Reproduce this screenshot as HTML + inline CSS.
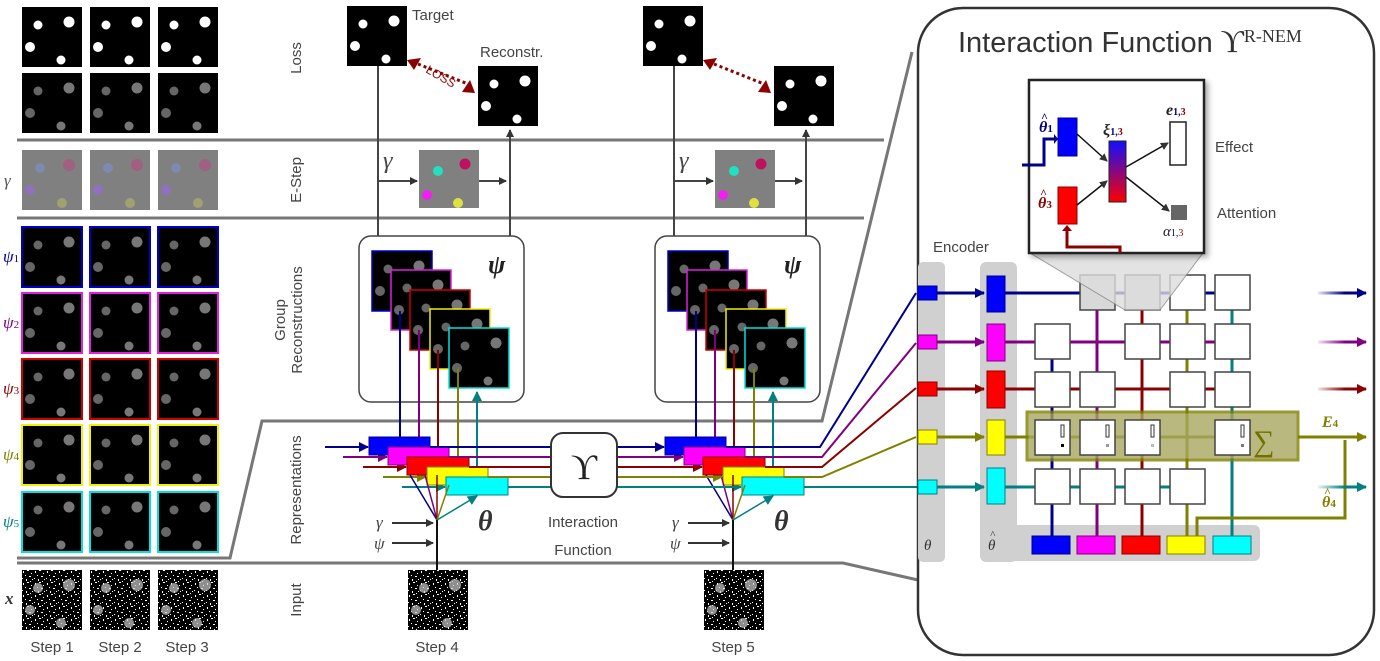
<!DOCTYPE html>
<html><head><meta charset="utf-8"><style>
html,body{margin:0;padding:0;background:#fff;}
svg{display:block;font-family:"Liberation Sans",sans-serif;}
.lab{font-family:"Liberation Sans",sans-serif;fill:#444;font-size:15px;}
.mth{font-family:"Liberation Serif",serif;font-style:italic;}
</style></head><body>
<svg width="1380" height="661" viewBox="0 0 1380 661" xmlns="http://www.w3.org/2000/svg">
<defs>
<symbol id="bw" viewBox="0 0 60 60"><rect width="60" height="60" fill="#000"/><circle cx="16" cy="18" r="4.5" fill="#fff"/><circle cx="47" cy="15" r="5.5" fill="#fff"/><circle cx="8" cy="40" r="5" fill="#fff"/><circle cx="39" cy="53" r="4.5" fill="#fff"/></symbol>
<symbol id="bg" viewBox="0 0 60 60"><rect width="60" height="60" fill="#000"/><circle cx="16" cy="18" r="4.5" fill="#666"/><circle cx="47" cy="15" r="5.5" fill="#777"/><circle cx="8" cy="40" r="5" fill="#666"/><circle cx="39" cy="53" r="4.5" fill="#777"/></symbol>
<symbol id="gm" viewBox="0 0 60 60"><rect width="60" height="60" fill="#808080"/><circle cx="18" cy="18" r="5" fill="#7a8ab0"/><circle cx="47" cy="15" r="6" fill="#a06080"/><circle cx="8" cy="40" r="5" fill="#9070c0"/><circle cx="40" cy="53" r="5" fill="#a0a070"/></symbol>
<pattern id="nz" width="12" height="12" patternUnits="userSpaceOnUse"><rect width="12" height="12" fill="#000"/><rect x="1" y="1" width="1" height="2" fill="#fff"/><rect x="5" y="0" width="2" height="1" fill="#fff"/><rect x="9" y="3" width="1" height="1" fill="#fff"/><rect x="3" y="5" width="1" height="1" fill="#fff"/><rect x="7" y="6" width="2" height="1" fill="#fff"/><rect x="0" y="8" width="1" height="1" fill="#fff"/><rect x="4" y="9" width="1" height="2" fill="#fff"/><rect x="10" y="9" width="1" height="1" fill="#fff"/><rect x="8" y="11" width="1" height="1" fill="#fff"/></pattern>
<symbol id="nx" viewBox="0 0 60 60"><rect width="60" height="60" fill="url(#nz)"/><circle cx="16" cy="18" r="5" fill="#ccc" opacity=".7"/><circle cx="47" cy="15" r="6" fill="#ccc" opacity=".7"/><circle cx="8" cy="40" r="5" fill="#ccc" opacity=".7"/><circle cx="39" cy="53" r="5" fill="#ccc" opacity=".7"/></symbol>
<marker id="ak" markerWidth="8" markerHeight="8" refX="7" refY="4" orient="auto" markerUnits="userSpaceOnUse"><path d="M0,0L8,4L0,8z" fill="#333"/></marker>
<marker id="anv" markerWidth="10" markerHeight="10" refX="9" refY="5" orient="auto" markerUnits="userSpaceOnUse"><path d="M0,0L10,5L0,10z" fill="#00008b"/></marker>
<marker id="apu" markerWidth="10" markerHeight="10" refX="9" refY="5" orient="auto" markerUnits="userSpaceOnUse"><path d="M0,0L10,5L0,10z" fill="#800080"/></marker>
<marker id="ard" markerWidth="10" markerHeight="10" refX="9" refY="5" orient="auto" markerUnits="userSpaceOnUse"><path d="M0,0L10,5L0,10z" fill="#8b0000"/></marker>
<marker id="aol" markerWidth="10" markerHeight="10" refX="9" refY="5" orient="auto" markerUnits="userSpaceOnUse"><path d="M0,0L10,5L0,10z" fill="#808000"/></marker>
<marker id="atl" markerWidth="10" markerHeight="10" refX="9" refY="5" orient="auto" markerUnits="userSpaceOnUse"><path d="M0,0L10,5L0,10z" fill="#008080"/></marker>
<linearGradient id="xi" x1="0" y1="0" x2="0" y2="1"><stop offset="0" stop-color="#1010ff"/><stop offset="1" stop-color="#ff0000"/></linearGradient>
<linearGradient id="fade" x1="0" y1="0" x2="1" y2="0"><stop offset="0" stop-color="#fff" stop-opacity="1"/><stop offset="1" stop-color="#fff" stop-opacity="0"/></linearGradient>
<filter id="sh" x="-10%" y="-10%" width="130%" height="130%"><feDropShadow dx="3" dy="3" stdDeviation="3" flood-opacity=".35"/></filter>
</defs>

<g stroke="#777" stroke-width="3" fill="none">
<line x1="17" y1="140" x2="884" y2="140"/>
<line x1="17" y1="218" x2="864" y2="218"/>
<polyline points="17,558 230,558 262,421 822,421 912,52"/>
<polyline points="17,563 843,563 918,580"/>
</g>

<g>
<use href="#bw" x="22" y="7" width="60" height="60"/><use href="#bw" x="90" y="7" width="60" height="60"/><use href="#bw" x="158" y="7" width="60" height="60"/>
<use href="#bg" x="22" y="73" width="60" height="60"/><use href="#bg" x="90" y="73" width="60" height="60"/><use href="#bg" x="158" y="73" width="60" height="60"/>
<use href="#gm" x="22" y="150" width="60" height="60"/><use href="#gm" x="90" y="150" width="60" height="60"/><use href="#gm" x="158" y="150" width="60" height="60"/>
<use href="#bg" x="22" y="227" width="60" height="60"/><use href="#bg" x="90" y="227" width="60" height="60"/><use href="#bg" x="158" y="227" width="60" height="60"/>
<use href="#bg" x="22" y="293" width="60" height="60"/><use href="#bg" x="90" y="293" width="60" height="60"/><use href="#bg" x="158" y="293" width="60" height="60"/>
<use href="#bg" x="22" y="359" width="60" height="60"/><use href="#bg" x="90" y="359" width="60" height="60"/><use href="#bg" x="158" y="359" width="60" height="60"/>
<use href="#bg" x="22" y="425" width="60" height="60"/><use href="#bg" x="90" y="425" width="60" height="60"/><use href="#bg" x="158" y="425" width="60" height="60"/>
<use href="#bg" x="22" y="492" width="60" height="60"/><use href="#bg" x="90" y="492" width="60" height="60"/><use href="#bg" x="158" y="492" width="60" height="60"/>
<use href="#nx" x="22" y="570" width="60" height="60"/><use href="#nx" x="90" y="570" width="60" height="60"/><use href="#nx" x="158" y="570" width="60" height="60"/>
</g>
<g fill="none" stroke-width="2">
<g stroke="#0000cc"><rect x="22" y="227" width="60" height="60"/><rect x="90" y="227" width="60" height="60"/><rect x="158" y="227" width="60" height="60"/></g>
<g stroke="#e020e0"><rect x="22" y="293" width="60" height="60"/><rect x="90" y="293" width="60" height="60"/><rect x="158" y="293" width="60" height="60"/></g>
<g stroke="#d00000"><rect x="22" y="359" width="60" height="60"/><rect x="90" y="359" width="60" height="60"/><rect x="158" y="359" width="60" height="60"/></g>
<g stroke="#f0f000"><rect x="22" y="425" width="60" height="60"/><rect x="90" y="425" width="60" height="60"/><rect x="158" y="425" width="60" height="60"/></g>
<g stroke="#00e0e0"><rect x="22" y="492" width="60" height="60"/><rect x="90" y="492" width="60" height="60"/><rect x="158" y="492" width="60" height="60"/></g>
</g>
<g class="mth" font-size="17">
<text x="4" y="186" fill="#555">γ</text>
<text x="3" y="262" fill="#00008b">ψ<tspan font-size="11" font-style="normal">1</tspan></text>
<text x="3" y="328" fill="#800080">ψ<tspan font-size="11" font-style="normal">2</tspan></text>
<text x="3" y="394" fill="#8b0000">ψ<tspan font-size="11" font-style="normal">3</tspan></text>
<text x="3" y="460" fill="#808000">ψ<tspan font-size="11" font-style="normal">4</tspan></text>
<text x="3" y="527" fill="#008080">ψ<tspan font-size="11" font-style="normal">5</tspan></text>
<text x="5" y="604" fill="#333" font-weight="bold">x</text>
</g>
<g class="lab" font-size="15" text-anchor="middle">
<text x="52" y="652">Step 1</text><text x="120" y="652">Step 2</text><text x="187" y="652">Step 3</text>
<text x="437" y="652">Step 4</text><text x="733" y="652">Step 5</text>
</g>
<g class="lab" font-size="16" text-anchor="middle">
<text transform="translate(301,58) rotate(-90)">Loss</text>
<text transform="translate(301,180) rotate(-90)">E-Step</text>
<text transform="translate(285,320) rotate(-90)">Group</text>
<text transform="translate(302,320) rotate(-90)">Reconstructions</text>
<text transform="translate(301,490) rotate(-90)">Representations</text>
<text transform="translate(301,600) rotate(-90)">Input</text>
</g>

<g id="step">
<use href="#bw" x="347" y="6" width="60" height="60"/>
<use href="#bw" x="478" y="66" width="60" height="60"/>
<line x1="418" y1="64" x2="468" y2="84" stroke="#8b0000" stroke-width="3" stroke-dasharray="3,3"/>
<path d="M407,60 L421,58 L414,70z" fill="#8b0000"/><path d="M475,93 L462,92 L470,80z" fill="#8b0000"/>
<g stroke="#444" stroke-width="2" fill="none">
<line x1="378" y1="66" x2="378" y2="237"/>
<line x1="510" y1="237" x2="510" y2="130" marker-end="url(#ak)"/>
<line x1="378" y1="181" x2="417" y2="181" marker-end="url(#ak)"/>
<line x1="478" y1="181" x2="506" y2="181" marker-end="url(#ak)"/>
</g>
<text x="383" y="168" class="mth" font-size="24" fill="#444">γ</text>
<rect x="419" y="150" width="60" height="58" fill="#808080"/>
<circle cx="438" cy="171" r="5" fill="#20e0c0"/><circle cx="465" cy="164" r="5.5" fill="#c01060"/><circle cx="427" cy="195" r="5" fill="#f020f0"/><circle cx="458" cy="203" r="5" fill="#e0e040"/>
<rect x="359" y="236" width="165" height="166" rx="12" fill="#fff" stroke="#444" stroke-width="1.5"/>
<text x="488" y="273" class="mth" font-size="26" font-weight="bold" fill="#222">ψ</text>
<use href="#bg" x="372" y="251" width="60" height="60"/><rect x="372" y="251" width="60" height="60" fill="none" stroke="#0000cc" stroke-width="1.5"/>
<use href="#bg" x="391" y="270" width="60" height="60"/><rect x="391" y="270" width="60" height="60" fill="none" stroke="#e020e0" stroke-width="1.5"/>
<use href="#bg" x="410" y="290" width="60" height="60"/><rect x="410" y="290" width="60" height="60" fill="none" stroke="#d00000" stroke-width="1.5"/>
<use href="#bg" x="430" y="309" width="60" height="60"/><rect x="430" y="309" width="60" height="60" fill="none" stroke="#f0f000" stroke-width="1.5"/>
<use href="#bg" x="449" y="328" width="60" height="60"/><rect x="449" y="328" width="60" height="60" fill="none" stroke="#00e0e0" stroke-width="1.5"/>
<g stroke-width="2" fill="none">
<line x1="400" y1="311" x2="400" y2="437" stroke="#00008b"/>
<line x1="419" y1="330" x2="419" y2="447" stroke="#800080"/>
<line x1="438" y1="350" x2="438" y2="457" stroke="#8b0000"/>
<line x1="458" y1="369" x2="458" y2="467" stroke="#808000"/>
<line x1="477" y1="477" x2="477" y2="392" stroke="#008080" marker-end="url(#atl)"/>
<line x1="325" y1="447" x2="368" y2="447" stroke="#00008b" marker-end="url(#anv)"/>
<line x1="343" y1="457" x2="387" y2="457" stroke="#800080" marker-end="url(#apu)"/>
<line x1="363" y1="467" x2="406" y2="467" stroke="#8b0000" marker-end="url(#ard)"/>
<line x1="383" y1="477" x2="426" y2="477" stroke="#808000" marker-end="url(#aol)"/>
<line x1="402" y1="487" x2="445" y2="487" stroke="#008080" marker-end="url(#atl)"/>
</g>
<rect x="369" y="437" width="61" height="18" fill="#0000ff" stroke="#00008b"/>
<rect x="388" y="447" width="61" height="18" fill="#ff00ff" stroke="#800080"/>
<rect x="407" y="457" width="62" height="18" fill="#ff0000" stroke="#8b0000"/>
<rect x="427" y="467" width="61" height="18" fill="#ffff00" stroke="#808000"/>
<rect x="446" y="477" width="62" height="18" fill="#00ffff" stroke="#008080"/>
<g stroke-width="1.5">
<line x1="437" y1="520" x2="410" y2="475" stroke="#00008b"/>
<line x1="437" y1="520" x2="425" y2="475" stroke="#800080"/>
<line x1="437" y1="520" x2="437" y2="475" stroke="#8b0000"/>
<line x1="437" y1="520" x2="449" y2="485" stroke="#808000"/>
<line x1="437" y1="520" x2="477" y2="496" stroke="#008080" marker-end="url(#atl)"/>
</g>
<line x1="437" y1="520" x2="437" y2="571" stroke="#111" stroke-width="2"/>
<g stroke="#333" stroke-width="2"><line x1="392" y1="523" x2="433" y2="523" marker-end="url(#ak)"/><line x1="392" y1="543" x2="433" y2="543" marker-end="url(#ak)"/></g>
<text x="376" y="528" class="mth" font-size="17" fill="#444">γ</text>
<text x="374" y="549" class="mth" font-size="17" fill="#444">ψ</text>
<text x="478" y="530" class="mth" font-size="28" font-weight="bold" fill="#333">θ</text>
<use href="#nx" x="408" y="570" width="60" height="60"/>
</g>
<use href="#step" x="296" y="0"/>
<text x="412" y="20" class="lab" font-size="13">Target</text>
<text x="480" y="57" class="lab" font-size="13">Reconstr.</text>
<text transform="translate(425,72) rotate(30)" font-size="12" fill="#8b0000" font-family="Liberation Sans">LOSS</text>

<g stroke-width="2" fill="none">
<line x1="430" y1="447" x2="662" y2="447" stroke="#00008b"/>
<line x1="449" y1="457" x2="683" y2="457" stroke="#800080"/>
<line x1="469" y1="467" x2="702" y2="467" stroke="#8b0000"/>
<line x1="488" y1="477" x2="722" y2="477" stroke="#808000"/>
<line x1="508" y1="487" x2="741" y2="487" stroke="#008080"/>
<polyline points="726,447 820,447 916,293" stroke="#00008b"/>
<polyline points="745,457 822,457 916,343" stroke="#800080"/>
<polyline points="765,467 822,467 916,388" stroke="#8b0000"/>
<polyline points="784,477 822,477 916,437" stroke="#808000"/>
<line x1="804" y1="487" x2="918" y2="487" stroke="#008080"/>
</g>
<rect x="551" y="433" width="66" height="64" rx="12" fill="#fff" stroke="#333" stroke-width="2"/>
<text x="584" y="479" text-anchor="middle" font-family="Liberation Serif,serif" font-size="36" fill="#222">ϒ</text>
<text x="583" y="527" text-anchor="middle" class="lab" font-size="17">Interaction</text>
<text x="583" y="555" text-anchor="middle" class="lab" font-size="17">Function</text>

<rect x="918" y="8" width="456" height="647" rx="45" fill="#fff" stroke="#333" stroke-width="2.5"/>
<text x="958" y="52" font-family="Liberation Sans,sans-serif" font-size="29" fill="#333">Interaction Function <tspan font-family="Liberation Serif,serif" font-size="32">ϒ</tspan><tspan font-family="Liberation Serif,serif" font-size="18" dy="-10">R-NEM</tspan></text>
<text x="933" y="252" class="lab" font-size="17">Encoder</text>
<rect x="918" y="262" width="27" height="300" rx="5" fill="#d0d0d0"/>
<rect x="980" y="262" width="37" height="300" rx="6" fill="#d0d0d0"/>
<rect x="980" y="525" width="280" height="36" rx="6" fill="#d0d0d0"/>
<rect x="1017" y="262" width="10" height="263" fill="#fff"/>
<text x="924" y="550" class="mth" font-size="15" fill="#333">θ</text>
<text x="988" y="550" class="mth" font-size="15" fill="#333">θ</text><text x="990" y="538" class="mth" font-size="11" fill="#333">^</text>

<g stroke-width="3" fill="none">
<line x1="1052" y1="330" x2="1052" y2="536" stroke="#00008b"/>
<line x1="1097" y1="293" x2="1097" y2="536" stroke="#800080"/>
<line x1="1142" y1="293" x2="1142" y2="536" stroke="#8b0000"/>
<line x1="1187" y1="293" x2="1187" y2="536" stroke="#808000"/>
<line x1="1232" y1="293" x2="1232" y2="536" stroke="#008080"/>
<line x1="937" y1="293" x2="984" y2="293" stroke="#00008b" marker-end="url(#anv)"/><line x1="1005" y1="293" x2="1232" y2="293" stroke="#00008b"/>
<line x1="937" y1="342" x2="984" y2="342" stroke="#800080" marker-end="url(#apu)"/><line x1="1005" y1="342" x2="1232" y2="342" stroke="#800080"/>
<line x1="937" y1="389" x2="984" y2="389" stroke="#8b0000" marker-end="url(#ard)"/><line x1="1005" y1="389" x2="1232" y2="389" stroke="#8b0000"/>
<line x1="937" y1="437" x2="984" y2="437" stroke="#808000" marker-end="url(#aol)"/><line x1="1005" y1="437" x2="1232" y2="437" stroke="#808000"/>
<line x1="937" y1="487" x2="984" y2="487" stroke="#008080" marker-end="url(#atl)"/><line x1="1005" y1="487" x2="1187" y2="487" stroke="#008080"/>
</g>
<rect x="1027" y="412" width="271" height="48" fill="#a8a860" opacity=".8" stroke="#808000" stroke-width="3"/>
<text x="1253" y="451" font-family="Liberation Serif,serif" font-size="30" fill="#707000">∑</text>
<g stroke-width="1">
<rect x="918" y="286" width="19" height="14" fill="#0000ff" stroke="#00008b"/>
<rect x="918" y="335" width="19" height="14" fill="#ff00ff" stroke="#800080"/>
<rect x="918" y="382" width="19" height="14" fill="#ff0000" stroke="#8b0000"/>
<rect x="918" y="430" width="19" height="14" fill="#ffff00" stroke="#808000"/>
<rect x="918" y="480" width="19" height="14" fill="#00ffff" stroke="#008080"/>
<rect x="987" y="276" width="18" height="36" fill="#0000ff" stroke="#00008b"/>
<rect x="987" y="324" width="18" height="37" fill="#ff00ff" stroke="#800080"/>
<rect x="987" y="371" width="18" height="37" fill="#ff0000" stroke="#8b0000"/>
<rect x="987" y="420" width="18" height="35" fill="#ffff00" stroke="#808000"/>
<rect x="987" y="468" width="18" height="36" fill="#00ffff" stroke="#008080"/>
<rect x="1032" y="536" width="38" height="18" fill="#0000ff" stroke="#00008b"/>
<rect x="1077" y="536" width="38" height="18" fill="#ff00ff" stroke="#800080"/>
<rect x="1122" y="536" width="38" height="18" fill="#ff0000" stroke="#8b0000"/>
<rect x="1167" y="536" width="38" height="18" fill="#ffff00" stroke="#808000"/>
<rect x="1213" y="536" width="38" height="18" fill="#00ffff" stroke="#008080"/>
</g>
<g fill="#fff" stroke="#444" stroke-width="1.5">
<rect x="1080" y="275" width="35" height="35" fill="#d8d8d8"/><rect x="1125" y="275" width="35" height="35" fill="#d8d8d8"/><rect x="1170" y="275" width="35" height="35"/><rect x="1215" y="275" width="35" height="35"/>
<rect x="1035" y="324" width="35" height="35"/><rect x="1125" y="324" width="35" height="35"/><rect x="1170" y="324" width="35" height="35"/><rect x="1215" y="324" width="35" height="35"/>
<rect x="1035" y="372" width="35" height="35"/><rect x="1080" y="372" width="35" height="35"/><rect x="1170" y="372" width="35" height="35"/><rect x="1215" y="372" width="35" height="35"/>
<rect x="1035" y="420" width="35" height="35"/><rect x="1080" y="420" width="35" height="35"/><rect x="1125" y="420" width="35" height="35"/><rect x="1215" y="420" width="35" height="35"/>
<rect x="1035" y="469" width="35" height="35"/><rect x="1080" y="469" width="35" height="35"/><rect x="1125" y="469" width="35" height="35"/><rect x="1170" y="469" width="35" height="35"/>
</g>
<g stroke="#333" fill="#fff" stroke-width="1"><rect x="1061" y="425" width="3" height="12"/><rect x="1106" y="425" width="3" height="12"/><rect x="1151" y="425" width="3" height="12"/><rect x="1241" y="425" width="3" height="12"/></g>
<rect x="1061" y="444" width="3" height="3" fill="#000"/><rect x="1106" y="444" width="3" height="3" fill="#999"/><rect x="1151" y="444" width="3" height="3" fill="#bbb"/><rect x="1241" y="444" width="3" height="3" fill="#777"/>

<g stroke-width="3" fill="none">
<line x1="1298" y1="437" x2="1366" y2="437" stroke="#808000" marker-end="url(#aol)"/>
<polyline points="1197,536 1197,518 1345,518 1345,440" stroke="#808000"/>
<line x1="1318" y1="293" x2="1366" y2="293" stroke="#00008b" marker-end="url(#anv)"/>
<line x1="1318" y1="342" x2="1366" y2="342" stroke="#800080" marker-end="url(#apu)"/>
<line x1="1318" y1="389" x2="1366" y2="389" stroke="#8b0000" marker-end="url(#ard)"/>
<line x1="1318" y1="487" x2="1366" y2="487" stroke="#008080" marker-end="url(#atl)"/>
</g>
<rect x="1315" y="283" width="30" height="120" fill="url(#fade)"/>
<rect x="1315" y="476" width="30" height="22" fill="url(#fade)"/>
<text x="1322" y="427" class="mth" font-size="16" font-weight="bold" fill="#808000">E<tspan font-size="11" font-style="normal">4</tspan></text>
<text x="1322" y="507" class="mth" font-size="16" font-weight="bold" fill="#808000">θ<tspan font-size="11" font-style="normal">4</tspan></text>
<text x="1324" y="496" class="mth" font-size="12" font-weight="bold" fill="#808000">^</text>

<path d="M1030,253 L1203,253 L1160,310 L1125,310z" fill="#ddd" opacity=".8" stroke="#888" stroke-width="1"/>
<rect x="1029" y="80" width="175" height="173" fill="#fff" stroke="#222" stroke-width="2.5" filter="url(#sh)"/>
<path d="M1022,165 L1044,165 L1044,139 L1054,139" fill="none" stroke="#00008b" stroke-width="3"/>
<path d="M1054,134 L1058,139 L1054,144z" fill="#00008b"/>
<path d="M1120,253 L1120,247 L1067,247 L1067,230" fill="none" stroke="#8b0000" stroke-width="3"/>
<path d="M1062,231 L1067,225 L1072,231z" fill="#8b0000"/>
<rect x="1058" y="118" width="19" height="38" fill="#0000ff" stroke="#00008b"/>
<rect x="1058" y="187" width="19" height="37" fill="#ff0000" stroke="#8b0000"/>
<rect x="1109" y="141" width="17" height="61" fill="url(#xi)" stroke="#222"/>
<rect x="1170" y="122" width="16" height="43" fill="#fff" stroke="#222" stroke-width="1.5"/>
<rect x="1171" y="205" width="16" height="15" fill="#666"/>
<g stroke="#111" stroke-width="1.5"><line x1="1077" y1="134" x2="1107" y2="161" marker-end="url(#ak)"/><line x1="1077" y1="205" x2="1107" y2="181" marker-end="url(#ak)"/><line x1="1126" y1="167" x2="1168" y2="143" marker-end="url(#ak)"/><line x1="1126" y1="177" x2="1169" y2="211" marker-end="url(#ak)"/></g>
<text x="1039" y="132" class="mth" font-size="16" font-weight="bold" fill="#00008b">θ<tspan font-size="11" font-style="normal">1</tspan></text>
<text x="1041" y="121" class="mth" font-size="12" font-weight="bold" fill="#00008b">^</text>
<text x="1038" y="208" class="mth" font-size="16" font-weight="bold" fill="#8b0000">θ<tspan font-size="11" font-style="normal">3</tspan></text>
<text x="1040" y="197" class="mth" font-size="12" font-weight="bold" fill="#8b0000">^</text>
<text x="1103" y="135" class="mth" font-size="16" font-weight="bold" fill="#222">ξ<tspan font-size="10" font-style="normal" fill="#00008b">1,</tspan><tspan font-size="10" font-style="normal" fill="#8b0000">3</tspan></text>
<text x="1166" y="115" class="mth" font-size="16" font-weight="bold" fill="#222">e<tspan font-size="10" font-style="normal" fill="#00008b">1,</tspan><tspan font-size="10" font-style="normal" fill="#8b0000">3</tspan></text>
<text x="1163" y="236" class="mth" font-size="15" fill="#222">α<tspan font-size="10" font-style="normal" fill="#00008b">1,</tspan><tspan font-size="10" font-style="normal" fill="#8b0000">3</tspan></text>
<text x="1215" y="152" class="lab" font-size="17">Effect</text>
<text x="1217" y="218" class="lab" font-size="17">Attention</text>
</svg>
</body></html>
